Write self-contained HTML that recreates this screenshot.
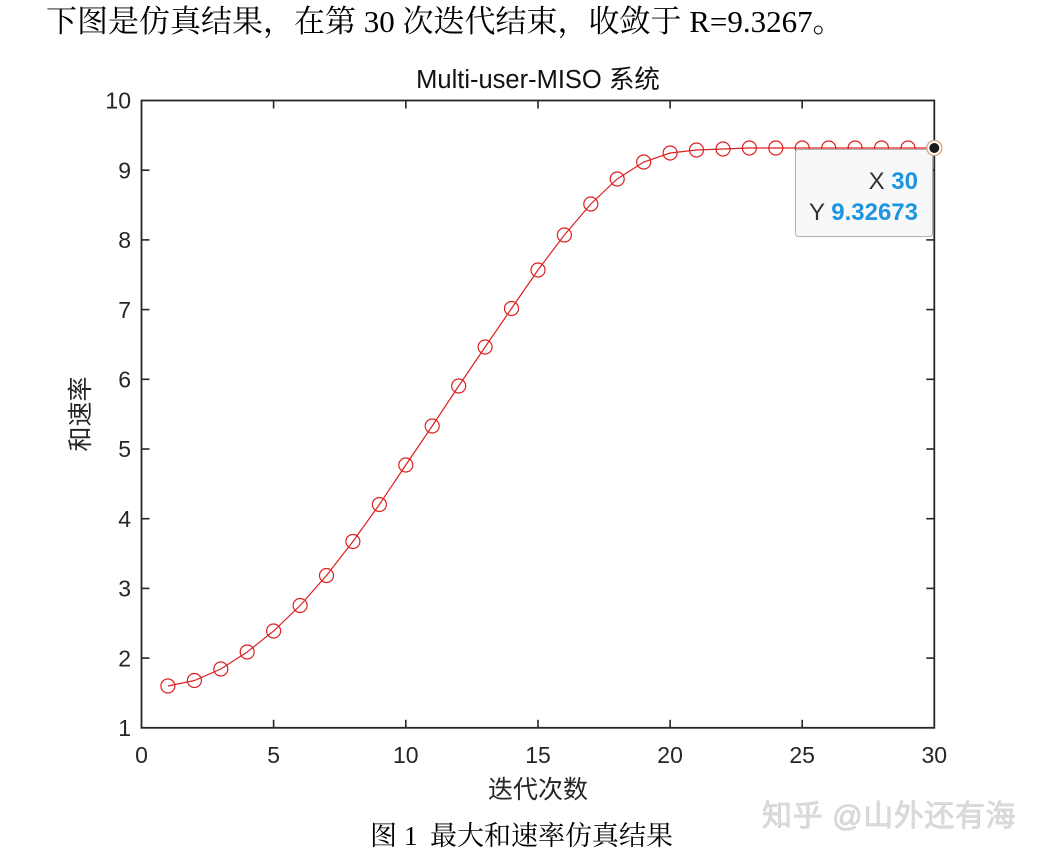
<!DOCTYPE html>
<html>
<head>
<meta charset="utf-8">
<style>
  html, body { margin:0; padding:0; background:#ffffff; }
  body { width:1042px; height:856px; overflow:hidden; }
  svg { display:block; }
</style>
</head>
<body>
<svg width="1042" height="856" viewBox="0 0 1042 856" xmlns="http://www.w3.org/2000/svg">
  <rect x="0" y="0" width="1042" height="856" fill="#ffffff"/>

  <!-- top paragraph -->
  <text x="46" y="32" font-size="31" fill="#000" font-family="'Liberation Serif','Noto Serif CJK SC',serif" xml:space="preserve">下图是仿真结果，在第 30 次迭代结束，收敛于 R=9.3267。</text>

  <!-- title -->
  <text x="538" y="88" font-size="25.5" text-anchor="middle" fill="#111" font-family="'Liberation Sans','Noto Sans CJK SC',sans-serif">Multi-user-MISO 系统</text>

  <!-- axes box -->
  <rect x="141.5" y="100.5" width="792.8" height="627.3" fill="none" stroke="#262626" stroke-width="1.8"/>

  <!-- ticks -->
  <g stroke="#262626" stroke-width="1.6">
    <line x1="273.6" y1="727.8" x2="273.6" y2="719.8"/>
    <line x1="405.8" y1="727.8" x2="405.8" y2="719.8"/>
    <line x1="538" y1="727.8" x2="538" y2="719.8"/>
    <line x1="670.1" y1="727.8" x2="670.1" y2="719.8"/>
    <line x1="802.2" y1="727.8" x2="802.2" y2="719.8"/>
    <line x1="273.6" y1="100.5" x2="273.6" y2="108.5"/>
    <line x1="405.8" y1="100.5" x2="405.8" y2="108.5"/>
    <line x1="538" y1="100.5" x2="538" y2="108.5"/>
    <line x1="670.1" y1="100.5" x2="670.1" y2="108.5"/>
    <line x1="802.2" y1="100.5" x2="802.2" y2="108.5"/>
    <line x1="141.5" y1="658.1" x2="149.5" y2="658.1"/>
    <line x1="141.5" y1="588.4" x2="149.5" y2="588.4"/>
    <line x1="141.5" y1="518.7" x2="149.5" y2="518.7"/>
    <line x1="141.5" y1="449.0" x2="149.5" y2="449.0"/>
    <line x1="141.5" y1="379.3" x2="149.5" y2="379.3"/>
    <line x1="141.5" y1="309.6" x2="149.5" y2="309.6"/>
    <line x1="141.5" y1="239.9" x2="149.5" y2="239.9"/>
    <line x1="141.5" y1="170.2" x2="149.5" y2="170.2"/>
    <line x1="934.3" y1="658.1" x2="926.3" y2="658.1"/>
    <line x1="934.3" y1="588.4" x2="926.3" y2="588.4"/>
    <line x1="934.3" y1="518.7" x2="926.3" y2="518.7"/>
    <line x1="934.3" y1="449.0" x2="926.3" y2="449.0"/>
    <line x1="934.3" y1="379.3" x2="926.3" y2="379.3"/>
    <line x1="934.3" y1="309.6" x2="926.3" y2="309.6"/>
    <line x1="934.3" y1="239.9" x2="926.3" y2="239.9"/>
    <line x1="934.3" y1="170.2" x2="926.3" y2="170.2"/>
  </g>

  <!-- y tick labels -->
  <g font-family="'Liberation Sans',sans-serif" font-size="23" fill="#262626" text-anchor="end">
    <text x="131" y="736">1</text>
    <text x="131" y="666.3">2</text>
    <text x="131" y="596.6">3</text>
    <text x="131" y="526.9">4</text>
    <text x="131" y="457.2">5</text>
    <text x="131" y="387.5">6</text>
    <text x="131" y="317.8">7</text>
    <text x="131" y="248.1">8</text>
    <text x="131" y="178.4">9</text>
    <text x="131" y="108.7">10</text>
  </g>

  <!-- x tick labels -->
  <g font-family="'Liberation Sans',sans-serif" font-size="23" fill="#262626" text-anchor="middle">
    <text x="141.5" y="763">0</text>
    <text x="273.6" y="763">5</text>
    <text x="405.8" y="763">10</text>
    <text x="538" y="763">15</text>
    <text x="670.1" y="763">20</text>
    <text x="802.2" y="763">25</text>
    <text x="934.3" y="763">30</text>
  </g>

  <!-- axis labels -->
  <text x="538" y="798" font-size="25" text-anchor="middle" fill="#262626" font-family="'Liberation Sans','Noto Sans CJK SC',sans-serif">迭代次数</text>
  <text x="89" y="414" font-size="25" text-anchor="middle" fill="#262626" transform="rotate(-90 89 414)" font-family="'Liberation Sans','Noto Sans CJK SC',sans-serif">和速率</text>

  <!-- data line -->
  <polyline fill="none" stroke="#dd2020" stroke-width="1.2" points="
    167.9,686 194.4,680.5 220.8,669 247.2,652 273.6,631 300.1,605.5 326.5,575.5 352.9,541.5 379.4,504.5 405.8,465
    432.2,426 458.7,386 485.1,347 511.5,308.5 538,270 564.4,235 590.8,204 617.2,179 643.7,162 670.1,153
    696.5,150 723,149 749.4,148 775.8,148 802.2,148 828.7,148 855.1,148 881.5,148 908,148 934.3,148"/>

  <!-- markers -->
  <g fill="none" stroke="#dd2020" stroke-width="1.2">
    <circle cx="167.9" cy="686" r="7"/>
    <circle cx="194.4" cy="680.5" r="7"/>
    <circle cx="220.8" cy="669" r="7"/>
    <circle cx="247.2" cy="652" r="7"/>
    <circle cx="273.6" cy="631" r="7"/>
    <circle cx="300.1" cy="605.5" r="7"/>
    <circle cx="326.5" cy="575.5" r="7"/>
    <circle cx="352.9" cy="541.5" r="7"/>
    <circle cx="379.4" cy="504.5" r="7"/>
    <circle cx="405.8" cy="465" r="7"/>
    <circle cx="432.2" cy="426" r="7"/>
    <circle cx="458.7" cy="386" r="7"/>
    <circle cx="485.1" cy="347" r="7"/>
    <circle cx="511.5" cy="308.5" r="7"/>
    <circle cx="538" cy="270" r="7"/>
    <circle cx="564.4" cy="235" r="7"/>
    <circle cx="590.8" cy="204" r="7"/>
    <circle cx="617.2" cy="179" r="7"/>
    <circle cx="643.7" cy="162" r="7"/>
    <circle cx="670.1" cy="153" r="7"/>
    <circle cx="696.5" cy="150" r="7"/>
    <circle cx="723" cy="149" r="7"/>
    <circle cx="749.4" cy="148" r="7"/>
    <circle cx="775.8" cy="148" r="7"/>
    <circle cx="802.2" cy="148" r="7"/>
    <circle cx="828.7" cy="148" r="7"/>
    <circle cx="855.1" cy="148" r="7"/>
    <circle cx="881.5" cy="148" r="7"/>
    <circle cx="908" cy="148" r="7"/>
  </g>

  <!-- datatip box -->
  <rect x="795.5" y="149.5" width="137" height="87" rx="3" ry="3" fill="#f8f8fa" stroke="#b0b0b0" stroke-width="1"/>
  <g font-family="'Liberation Sans',sans-serif" font-size="24" text-anchor="end">
    <text x="918" y="189"><tspan fill="#333">X </tspan><tspan fill="#1e95e0" font-weight="bold">30</tspan></text>
    <text x="918" y="220"><tspan fill="#333">Y </tspan><tspan fill="#1e95e0" font-weight="bold">9.32673</tspan></text>
  </g>

  <!-- datatip marker -->
  <circle cx="934.3" cy="148" r="7.5" fill="#ffffff" stroke="#d9a277" stroke-width="1.3"/>
  <circle cx="934.3" cy="148" r="5" fill="#1a1a1a"/>

  <!-- caption -->
  <text y="845" font-size="27" fill="#000" font-family="'Liberation Serif','Noto Serif CJK SC',serif"><tspan x="370">图</tspan><tspan x="404">1</tspan><tspan x="430">最大和速率仿真结果</tspan></text>

  <!-- watermark -->
  <text x="762" y="826" font-size="30" letter-spacing="0.6" fill="#dadada" style="paint-order:stroke" stroke="#c2c2c2" stroke-width="0.6" font-family="'Liberation Sans','Noto Sans CJK SC',sans-serif">知乎 @山外还有海</text>
</svg>
</body>
</html>
